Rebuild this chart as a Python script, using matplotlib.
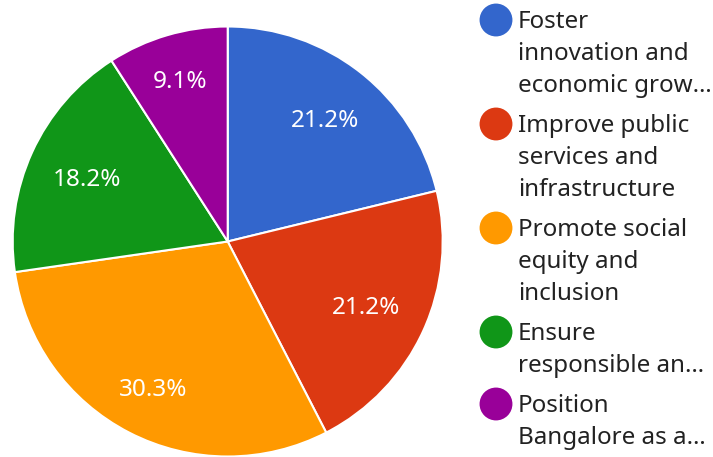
import matplotlib
matplotlib.use("Agg")
import matplotlib.pyplot as plt
import numpy as np

##### Data ######
labels = [
    "Foster innovation and economic growth",
    "Improve public services and infrastructure",
    "Promote social equity and inclusion",
    "Ensure responsible and sustainable development",
    "Position Bangalore as a global city",
]
# legend text as shown (wrapped / truncated)
legend_lines = [
    ["Foster", "innovation and", "economic grow\u2026"],
    ["Improve public", "services and", "infrastructure"],
    ["Promote social", "equity and", "inclusion"],
    ["Ensure", "responsible an\u2026"],
    ["Position", "Bangalore as a\u2026"],
]
counts = [7, 7, 10, 6, 3]
colors = ["#3366cc", "#dc3912", "#ff9900", "#109618", "#990099"]

plt.rcParams['font.family'] = ['Noto Sans', 'DejaVu Sans']

W, H = 713, 457
fig = plt.figure(figsize=(W / 100, H / 100), dpi=100)

# pie placement (pixels)
cx, cy, r = 227.7, 241.5, 215.0
ax = fig.add_axes([(cx - r) / W, (H - cy - r) / H, 2 * r / W, 2 * r / H])
wedges, texts, autotexts = ax.pie(
    counts, colors=colors, startangle=90, counterclock=False,
    autopct="%1.1f%%", pctdistance=0.74, radius=1.0,
    wedgeprops=dict(edgecolor="white", linewidth=1.5),
    textprops=dict(color="white", fontsize=17.5))

# label distance per slice, as google charts places them
pct_dist = [0.73, 0.71, 0.76, 0.72, 0.79]
for w, t, d in zip(wedges, autotexts, pct_dist):
    ang = np.deg2rad((w.theta1 + w.theta2) / 2)
    t.set_position((d * np.cos(ang), d * np.sin(ang) - 3.0 / r))

ax.set_xlim(-1, 1)
ax.set_ylim(-1, 1)
ax.set_aspect("auto")
ax.axis("off")

# legend drawn in pixel coords
lax = fig.add_axes([0, 0, 1, 1])
lax.set_xlim(0, W)
lax.set_ylim(H, 0)
lax.axis("off")
line_h = 32
gap = 8
y = 20
for lines, col in zip(legend_lines, colors):
    lax.scatter([496], [y], s=560, color=col, edgecolors="none")
    for k, txt in enumerate(lines):
        lax.text(518, y + 8.5 + k * line_h, txt, fontsize=17.4,
                 color="#222222", va="baseline", ha="left")
    y += len(lines) * line_h + gap

fig.savefig("out.png", dpi=100)
